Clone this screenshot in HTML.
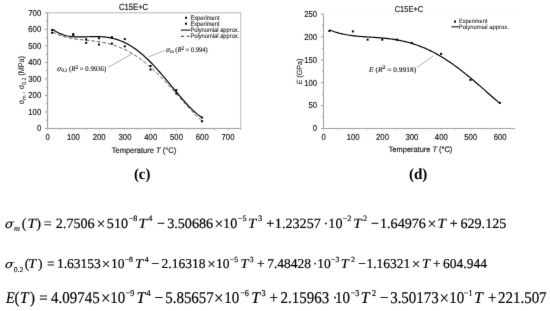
<!DOCTYPE html>
<html><head><meta charset="utf-8"><style>
html,body{margin:0;padding:0;background:#fff;width:550px;height:311px;overflow:hidden}
svg{display:block} text{text-rendering:geometricPrecision}
</style></head><body>
<svg width="550" height="311" viewBox="0 0 550 311">
<defs><filter id="soft" x="0" y="0" width="550" height="311" filterUnits="userSpaceOnUse" color-interpolation-filters="sRGB"><feConvolveMatrix order="3" kernelMatrix="0.0052 0.0619 0.0052 0.0619 0.7316 0.0619 0.0052 0.0619 0.0052" edgeMode="duplicate" preserveAlpha="true"/></filter></defs>
<g filter="url(#soft)">
<rect width="550" height="311" fill="#fff"/>
<rect x="47.5" y="12.79" width="193.2" height="115.71" fill="none" stroke="#c2c2c2" stroke-width="1.2"/>
<line x1="47.5" y1="12.19" x2="47.5" y2="129.1" stroke="#a2a2a2" stroke-width="1.1"/>
<line x1="46.9" y1="128.5" x2="240.7" y2="128.5" stroke="#a2a2a2" stroke-width="1.1"/>
<path d="M44.9 128.5H47.5M45.9 120.23H47.5M44.9 111.97H47.5M45.9 103.7H47.5M44.9 95.44H47.5M45.9 87.17H47.5M44.9 78.91H47.5M45.9 70.64H47.5M44.9 62.38H47.5M45.9 54.11H47.5M44.9 45.85H47.5M45.9 37.58H47.5M44.9 29.32H47.5M45.9 21.05H47.5M44.9 12.79H47.5" stroke="#a2a2a2" stroke-width="1" fill="none"/>
<path d="M47.5 128.5V130.4M60.38 128.5V130.4M73.26 128.5V130.4M86.14 128.5V130.4M99.02 128.5V130.4M111.9 128.5V130.4M124.78 128.5V130.4M137.66 128.5V130.4M150.54 128.5V130.4M163.42 128.5V130.4M176.3 128.5V130.4M189.18 128.5V130.4M202.06 128.5V130.4M214.94 128.5V130.4M227.82 128.5V130.4M240.7 128.5V130.4" stroke="#bdbdbd" stroke-width="0.9" fill="none"/>
<text transform="translate(41.2 131.35) scale(0.89 1)" font-family='"Liberation Sans",Arial,sans-serif' font-size="8.7" text-anchor="end" fill="#1a1a1a" stroke="#1a1a1a" stroke-width="0.18">0</text>
<text transform="translate(41.2 114.82) scale(0.89 1)" font-family='"Liberation Sans",Arial,sans-serif' font-size="8.7" text-anchor="end" fill="#1a1a1a" stroke="#1a1a1a" stroke-width="0.18">100</text>
<text transform="translate(41.2 98.29) scale(0.89 1)" font-family='"Liberation Sans",Arial,sans-serif' font-size="8.7" text-anchor="end" fill="#1a1a1a" stroke="#1a1a1a" stroke-width="0.18">200</text>
<text transform="translate(41.2 81.76) scale(0.89 1)" font-family='"Liberation Sans",Arial,sans-serif' font-size="8.7" text-anchor="end" fill="#1a1a1a" stroke="#1a1a1a" stroke-width="0.18">300</text>
<text transform="translate(41.2 65.23) scale(0.89 1)" font-family='"Liberation Sans",Arial,sans-serif' font-size="8.7" text-anchor="end" fill="#1a1a1a" stroke="#1a1a1a" stroke-width="0.18">400</text>
<text transform="translate(41.2 48.7) scale(0.89 1)" font-family='"Liberation Sans",Arial,sans-serif' font-size="8.7" text-anchor="end" fill="#1a1a1a" stroke="#1a1a1a" stroke-width="0.18">500</text>
<text transform="translate(41.2 32.17) scale(0.89 1)" font-family='"Liberation Sans",Arial,sans-serif' font-size="8.7" text-anchor="end" fill="#1a1a1a" stroke="#1a1a1a" stroke-width="0.18">600</text>
<text transform="translate(41.2 15.64) scale(0.89 1)" font-family='"Liberation Sans",Arial,sans-serif' font-size="8.7" text-anchor="end" fill="#1a1a1a" stroke="#1a1a1a" stroke-width="0.18">700</text>
<text transform="translate(47.7 139.9) scale(0.89 1)" font-family='"Liberation Sans",Arial,sans-serif' font-size="8.7" text-anchor="middle" fill="#1a1a1a" stroke="#1a1a1a" stroke-width="0.18">0</text>
<text transform="translate(73.46 139.9) scale(0.89 1)" font-family='"Liberation Sans",Arial,sans-serif' font-size="8.7" text-anchor="middle" fill="#1a1a1a" stroke="#1a1a1a" stroke-width="0.18">100</text>
<text transform="translate(99.22 139.9) scale(0.89 1)" font-family='"Liberation Sans",Arial,sans-serif' font-size="8.7" text-anchor="middle" fill="#1a1a1a" stroke="#1a1a1a" stroke-width="0.18">200</text>
<text transform="translate(124.98 139.9) scale(0.89 1)" font-family='"Liberation Sans",Arial,sans-serif' font-size="8.7" text-anchor="middle" fill="#1a1a1a" stroke="#1a1a1a" stroke-width="0.18">300</text>
<text transform="translate(150.74 139.9) scale(0.89 1)" font-family='"Liberation Sans",Arial,sans-serif' font-size="8.7" text-anchor="middle" fill="#1a1a1a" stroke="#1a1a1a" stroke-width="0.18">400</text>
<text transform="translate(176.5 139.9) scale(0.89 1)" font-family='"Liberation Sans",Arial,sans-serif' font-size="8.7" text-anchor="middle" fill="#1a1a1a" stroke="#1a1a1a" stroke-width="0.18">500</text>
<text transform="translate(202.26 139.9) scale(0.89 1)" font-family='"Liberation Sans",Arial,sans-serif' font-size="8.7" text-anchor="middle" fill="#1a1a1a" stroke="#1a1a1a" stroke-width="0.18">600</text>
<text transform="translate(228.02 139.9) scale(0.89 1)" font-family='"Liberation Sans",Arial,sans-serif' font-size="8.7" text-anchor="middle" fill="#1a1a1a" stroke="#1a1a1a" stroke-width="0.18">700</text>
<text transform="translate(119 10.3) scale(0.85 1)" font-family='"Liberation Sans",Arial,sans-serif' font-size="9" fill="#1a1a1a" stroke="#1a1a1a" stroke-width="0.18">C15E+C</text>
<text transform="translate(111.7 152.8) scale(0.94 1)" font-family='"Liberation Sans",Arial,sans-serif' font-size="8" fill="#1a1a1a" stroke="#1a1a1a" stroke-width="0.18">Temperature <tspan font-style="italic">T</tspan> (°C)</text>
<text transform="translate(24.3 104.2) rotate(-90) scale(0.87 1)" font-family='"Liberation Sans",Arial,sans-serif' font-size="8.3" fill="#1a1a1a" stroke="#1a1a1a" stroke-width="0.03">σ<tspan font-size="6" dy="1.6">m</tspan><tspan dy="-1.6"> , σ</tspan><tspan font-size="6" dy="1.6">0.2</tspan><tspan dy="-1.6"> (MPa)</tspan></text>
<path d="M52.65 29.19 L53.91 30.12 L55.16 30.96 L56.42 31.74 L57.67 32.44 L58.93 33.08 L60.19 33.66 L61.44 34.18 L62.7 34.64 L63.95 35.05 L65.21 35.41 L66.46 35.72 L67.72 35.99 L68.97 36.22 L70.23 36.41 L71.48 36.57 L72.74 36.7 L74 36.8 L75.25 36.87 L76.51 36.92 L77.76 36.96 L79.02 36.97 L80.27 36.97 L81.53 36.95 L82.78 36.93 L84.04 36.9 L85.3 36.86 L86.55 36.82 L87.81 36.77 L89.06 36.73 L90.32 36.69 L91.57 36.66 L92.83 36.63 L94.08 36.61 L95.34 36.6 L96.6 36.6 L97.85 36.62 L99.11 36.65 L100.36 36.7 L101.62 36.77 L102.87 36.85 L104.13 36.96 L105.38 37.09 L106.64 37.24 L107.9 37.42 L109.15 37.62 L110.41 37.85 L111.66 38.11 L112.92 38.39 L114.17 38.71 L115.43 39.05 L116.68 39.43 L117.94 39.83 L119.2 40.27 L120.45 40.75 L121.71 41.25 L122.96 41.79 L124.22 42.37 L125.47 42.97 L126.73 43.62 L127.98 44.29 L129.24 45 L130.49 45.75 L131.75 46.53 L133.01 47.35 L134.26 48.2 L135.52 49.09 L136.77 50.01 L138.03 50.96 L139.28 51.95 L140.54 52.97 L141.79 54.02 L143.05 55.1 L144.31 56.22 L145.56 57.37 L146.82 58.54 L148.07 59.75 L149.33 60.98 L150.58 62.24 L151.84 63.53 L153.09 64.84 L154.35 66.18 L155.61 67.54 L156.86 68.92 L158.12 70.32 L159.37 71.74 L160.63 73.18 L161.88 74.63 L163.14 76.1 L164.39 77.58 L165.65 79.08 L166.91 80.58 L168.16 82.09 L169.42 83.61 L170.67 85.13 L171.93 86.65 L173.18 88.17 L174.44 89.69 L175.69 91.2 L176.95 92.71 L178.2 94.21 L179.46 95.7 L180.72 97.17 L181.97 98.63 L183.23 100.07 L184.48 101.49 L185.74 102.88 L186.99 104.25 L188.25 105.59 L189.5 106.9 L190.76 108.17 L192.02 109.4 L193.27 110.59 L194.53 111.74 L195.78 112.84 L197.04 113.89 L198.29 114.88 L199.55 115.82 L200.8 116.7 L202.06 117.51" stroke="#000" stroke-width="1.2" fill="none"/>
<path d="M52.65 31.88 L53.91 32.57 L55.16 33.22 L56.42 33.82 L57.67 34.38 L58.93 34.9 L60.19 35.38 L61.44 35.83 L62.7 36.24 L63.95 36.62 L65.21 36.98 L66.46 37.3 L67.72 37.6 L68.97 37.88 L70.23 38.13 L71.48 38.36 L72.74 38.58 L74 38.78 L75.25 38.97 L76.51 39.14 L77.76 39.3 L79.02 39.45 L80.27 39.6 L81.53 39.74 L82.78 39.87 L84.04 40 L85.3 40.13 L86.55 40.25 L87.81 40.38 L89.06 40.51 L90.32 40.64 L91.57 40.78 L92.83 40.93 L94.08 41.08 L95.34 41.24 L96.6 41.41 L97.85 41.59 L99.11 41.78 L100.36 41.98 L101.62 42.2 L102.87 42.43 L104.13 42.67 L105.38 42.94 L106.64 43.22 L107.9 43.51 L109.15 43.83 L110.41 44.16 L111.66 44.52 L112.92 44.89 L114.17 45.29 L115.43 45.71 L116.68 46.15 L117.94 46.61 L119.2 47.09 L120.45 47.6 L121.71 48.13 L122.96 48.69 L124.22 49.27 L125.47 49.88 L126.73 50.51 L127.98 51.17 L129.24 51.85 L130.49 52.56 L131.75 53.29 L133.01 54.05 L134.26 54.84 L135.52 55.65 L136.77 56.48 L138.03 57.34 L139.28 58.23 L140.54 59.14 L141.79 60.08 L143.05 61.04 L144.31 62.03 L145.56 63.04 L146.82 64.07 L148.07 65.13 L149.33 66.21 L150.58 67.31 L151.84 68.44 L153.09 69.59 L154.35 70.75 L155.61 71.94 L156.86 73.15 L158.12 74.38 L159.37 75.62 L160.63 76.89 L161.88 78.17 L163.14 79.46 L164.39 80.77 L165.65 82.1 L166.91 83.43 L168.16 84.78 L169.42 86.15 L170.67 87.52 L171.93 88.9 L173.18 90.29 L174.44 91.68 L175.69 93.09 L176.95 94.49 L178.2 95.9 L179.46 97.31 L180.72 98.72 L181.97 100.13 L183.23 101.54 L184.48 102.95 L185.74 104.35 L186.99 105.74 L188.25 107.13 L189.5 108.5 L190.76 109.86 L192.02 111.21 L193.27 112.55 L194.53 113.87 L195.78 115.17 L197.04 116.45 L198.29 117.71 L199.55 118.94 L200.8 120.15 L202.06 121.33" stroke="#333" stroke-width="0.85" fill="none" stroke-dasharray="3.6 2.1"/>
<rect x="51.14" y="28.98" width="2" height="2" fill="#000"/>
<rect x="51.14" y="31.79" width="2" height="2" fill="#000"/>
<rect x="72.26" y="33.11" width="2" height="2" fill="#000"/>
<rect x="72.26" y="33.94" width="2" height="2" fill="#000"/>
<rect x="85.14" y="38.4" width="2" height="2" fill="#000"/>
<rect x="85.14" y="41.87" width="2" height="2" fill="#000"/>
<rect x="98.02" y="37.25" width="2" height="2" fill="#000"/>
<rect x="98.02" y="43.53" width="2" height="2" fill="#000"/>
<rect x="110.9" y="36.09" width="2" height="2" fill="#000"/>
<rect x="110.9" y="42.54" width="2" height="2" fill="#000"/>
<rect x="123.78" y="38.07" width="2" height="2" fill="#000"/>
<rect x="123.78" y="45.35" width="2" height="2" fill="#000"/>
<rect x="149.54" y="65.02" width="2" height="2" fill="#000"/>
<rect x="149.54" y="68.49" width="2" height="2" fill="#000"/>
<rect x="175.3" y="89.15" width="2" height="2" fill="#000"/>
<rect x="175.3" y="92.46" width="2" height="2" fill="#000"/>
<rect x="201.06" y="116.59" width="2" height="2" fill="#000"/>
<rect x="201.06" y="120.23" width="2" height="2" fill="#000"/>
<text transform="translate(190.4 19.9) scale(0.9 1)" font-family='"Liberation Sans",Arial,sans-serif' font-size="6.4" fill="#1a1a1a" stroke="#1a1a1a" stroke-width="0.08">Experiment</text>
<rect x="185" y="16.8" width="2" height="2" fill="#000"/>
<text transform="translate(190.4 25.8) scale(0.9 1)" font-family='"Liberation Sans",Arial,sans-serif' font-size="6.4" fill="#1a1a1a" stroke="#1a1a1a" stroke-width="0.08">Experiment</text>
<rect x="185" y="22.7" width="2" height="2" fill="#000"/>
<text transform="translate(190.4 32) scale(0.9 1)" font-family='"Liberation Sans",Arial,sans-serif' font-size="6.4" fill="#1a1a1a" stroke="#1a1a1a" stroke-width="0.08">Polynomial approx.</text>
<line x1="181.0" y1="30.1" x2="190.3" y2="30.1" stroke="#111" stroke-width="1.1"/>
<text transform="translate(190.4 38.1) scale(0.9 1)" font-family='"Liberation Sans",Arial,sans-serif' font-size="6.4" fill="#1a1a1a" stroke="#1a1a1a" stroke-width="0.08">Polynomial approx.</text>
<path d="M181.0 36.3h3.2M186.8 36.3h2.8" stroke="#222" stroke-width="0.9"/>
<line x1="164.8" y1="50.6" x2="148.6" y2="56.7" stroke="#777" stroke-width="0.6"/>
<line x1="107.6" y1="67.7" x2="132.9" y2="53.3" stroke="#777" stroke-width="0.6"/>
<text x="165.5" y="52.2" font-family='"Liberation Serif",serif' font-size="7.2" fill="#111" stroke="#111" stroke-width="0.12" textLength="42.2" lengthAdjust="spacingAndGlyphs"><tspan font-family='"DejaVu Math TeX Gyre",serif' font-style="italic" font-size="6.8">σ</tspan><tspan font-size="5" dy="1">m</tspan><tspan dy="-1"> (</tspan><tspan font-style="italic">R</tspan><tspan font-size="5.6" dy="-2.6">2</tspan><tspan dy="2.6"> = 0.994)</tspan></text>
<text x="56.6" y="71.3" font-family='"Liberation Serif",serif' font-size="7.2" fill="#111" stroke="#111" stroke-width="0.12" textLength="49.6" lengthAdjust="spacingAndGlyphs"><tspan font-family='"DejaVu Math TeX Gyre",serif' font-style="italic" font-size="6.8">σ</tspan><tspan font-size="5" dy="1">0.2</tspan><tspan dy="-1"> (</tspan><tspan font-style="italic">R</tspan><tspan font-size="5.6" dy="-2.6">2</tspan><tspan dy="2.6"> = 0.9936)</tspan></text>
<line x1="323.5" y1="14" x2="514.6" y2="14" stroke="#f7f7f7" stroke-width="1"/>
<line x1="323.5" y1="14" x2="323.5" y2="129.1" stroke="#a2a2a2" stroke-width="1.1"/>
<line x1="322.9" y1="128.5" x2="514.6" y2="128.5" stroke="#a2a2a2" stroke-width="1.1"/>
<path d="M320.9 128.5H323.5M321.9 117.05H323.5M320.9 105.6H323.5M321.9 94.15H323.5M320.9 82.7H323.5M321.9 71.25H323.5M320.9 59.8H323.5M321.9 48.35H323.5M320.9 36.9H323.5M321.9 25.45H323.5M320.9 14H323.5" stroke="#a2a2a2" stroke-width="1" fill="none"/>
<path d="M323.5 128.5V130.4M338.2 128.5V130.4M352.9 128.5V130.4M367.6 128.5V130.4M382.3 128.5V130.4M397 128.5V130.4M411.7 128.5V130.4M426.4 128.5V130.4M441.1 128.5V130.4M455.8 128.5V130.4M470.5 128.5V130.4M485.2 128.5V130.4M499.9 128.5V130.4M514.6 128.5V130.4" stroke="#c4c4c4" stroke-width="0.9" fill="none"/>
<text transform="translate(317.1 131.35) scale(0.89 1)" font-family='"Liberation Sans",Arial,sans-serif' font-size="8.7" text-anchor="end" fill="#1a1a1a" stroke="#1a1a1a" stroke-width="0.18">0</text>
<text transform="translate(317.1 108.45) scale(0.89 1)" font-family='"Liberation Sans",Arial,sans-serif' font-size="8.7" text-anchor="end" fill="#1a1a1a" stroke="#1a1a1a" stroke-width="0.18">50</text>
<text transform="translate(317.1 85.55) scale(0.89 1)" font-family='"Liberation Sans",Arial,sans-serif' font-size="8.7" text-anchor="end" fill="#1a1a1a" stroke="#1a1a1a" stroke-width="0.18">100</text>
<text transform="translate(317.1 62.65) scale(0.89 1)" font-family='"Liberation Sans",Arial,sans-serif' font-size="8.7" text-anchor="end" fill="#1a1a1a" stroke="#1a1a1a" stroke-width="0.18">150</text>
<text transform="translate(317.1 39.75) scale(0.89 1)" font-family='"Liberation Sans",Arial,sans-serif' font-size="8.7" text-anchor="end" fill="#1a1a1a" stroke="#1a1a1a" stroke-width="0.18">200</text>
<text transform="translate(317.1 16.85) scale(0.89 1)" font-family='"Liberation Sans",Arial,sans-serif' font-size="8.7" text-anchor="end" fill="#1a1a1a" stroke="#1a1a1a" stroke-width="0.18">250</text>
<text transform="translate(323.7 139.9) scale(0.89 1)" font-family='"Liberation Sans",Arial,sans-serif' font-size="8.7" text-anchor="middle" fill="#1a1a1a" stroke="#1a1a1a" stroke-width="0.18">0</text>
<text transform="translate(353.1 139.9) scale(0.89 1)" font-family='"Liberation Sans",Arial,sans-serif' font-size="8.7" text-anchor="middle" fill="#1a1a1a" stroke="#1a1a1a" stroke-width="0.18">100</text>
<text transform="translate(382.5 139.9) scale(0.89 1)" font-family='"Liberation Sans",Arial,sans-serif' font-size="8.7" text-anchor="middle" fill="#1a1a1a" stroke="#1a1a1a" stroke-width="0.18">200</text>
<text transform="translate(411.9 139.9) scale(0.89 1)" font-family='"Liberation Sans",Arial,sans-serif' font-size="8.7" text-anchor="middle" fill="#1a1a1a" stroke="#1a1a1a" stroke-width="0.18">300</text>
<text transform="translate(441.3 139.9) scale(0.89 1)" font-family='"Liberation Sans",Arial,sans-serif' font-size="8.7" text-anchor="middle" fill="#1a1a1a" stroke="#1a1a1a" stroke-width="0.18">400</text>
<text transform="translate(470.7 139.9) scale(0.89 1)" font-family='"Liberation Sans",Arial,sans-serif' font-size="8.7" text-anchor="middle" fill="#1a1a1a" stroke="#1a1a1a" stroke-width="0.18">500</text>
<text transform="translate(500.1 139.9) scale(0.89 1)" font-family='"Liberation Sans",Arial,sans-serif' font-size="8.7" text-anchor="middle" fill="#1a1a1a" stroke="#1a1a1a" stroke-width="0.18">600</text>
<text transform="translate(394.7 11.7) scale(0.87 1)" font-family='"Liberation Sans",Arial,sans-serif' font-size="8.6" fill="#1a1a1a" stroke="#1a1a1a" stroke-width="0.18">C15E+C</text>
<text transform="translate(388.8 152.1) scale(0.95 1)" font-family='"Liberation Sans",Arial,sans-serif' font-size="7.8" fill="#1a1a1a" stroke="#1a1a1a" stroke-width="0.18">Temperature <tspan font-style="italic">T</tspan> (°C)</text>
<text transform="translate(302 84.6) rotate(-90) scale(0.95 1)" font-family='"Liberation Sans",Arial,sans-serif' font-size="7.6" fill="#1a1a1a" stroke="#1a1a1a" stroke-width="0.06"><tspan font-style="italic">E</tspan> (GPa)</text>
<path d="M329.38 29.88 L330.81 30.47 L332.25 31.01 L333.68 31.53 L335.11 32 L336.54 32.45 L337.98 32.86 L339.41 33.24 L340.84 33.6 L342.28 33.93 L343.71 34.23 L345.14 34.51 L346.58 34.77 L348.01 35.01 L349.44 35.23 L350.87 35.43 L352.31 35.62 L353.74 35.79 L355.17 35.95 L356.61 36.1 L358.04 36.23 L359.47 36.36 L360.9 36.48 L362.34 36.59 L363.77 36.69 L365.2 36.79 L366.64 36.89 L368.07 36.99 L369.5 37.08 L370.94 37.17 L372.37 37.27 L373.8 37.36 L375.23 37.46 L376.67 37.56 L378.1 37.67 L379.53 37.78 L380.97 37.9 L382.4 38.03 L383.83 38.16 L385.26 38.3 L386.7 38.46 L388.13 38.62 L389.56 38.79 L391 38.98 L392.43 39.18 L393.86 39.39 L395.3 39.62 L396.73 39.86 L398.16 40.11 L399.59 40.39 L401.03 40.67 L402.46 40.98 L403.89 41.3 L405.33 41.64 L406.76 41.99 L408.19 42.37 L409.62 42.76 L411.06 43.17 L412.49 43.61 L413.92 44.06 L415.36 44.53 L416.79 45.02 L418.22 45.53 L419.66 46.07 L421.09 46.62 L422.52 47.2 L423.95 47.79 L425.39 48.41 L426.82 49.05 L428.25 49.71 L429.69 50.39 L431.12 51.09 L432.55 51.82 L433.98 52.56 L435.42 53.33 L436.85 54.11 L438.28 54.92 L439.72 55.75 L441.15 56.6 L442.58 57.47 L444.02 58.36 L445.45 59.27 L446.88 60.2 L448.31 61.15 L449.75 62.11 L451.18 63.1 L452.61 64.1 L454.05 65.12 L455.48 66.16 L456.91 67.22 L458.34 68.29 L459.78 69.38 L461.21 70.48 L462.64 71.6 L464.08 72.73 L465.51 73.88 L466.94 75.03 L468.38 76.2 L469.81 77.39 L471.24 78.58 L472.67 79.78 L474.11 80.99 L475.54 82.21 L476.97 83.44 L478.41 84.68 L479.84 85.92 L481.27 87.16 L482.7 88.41 L484.14 89.67 L485.57 90.92 L487 92.18 L488.44 93.44 L489.87 94.69 L491.3 95.95 L492.74 97.2 L494.17 98.44 L495.6 99.68 L497.03 100.92 L498.47 102.15 L499.9 103.36" stroke="#000" stroke-width="1.2" fill="none"/>
<rect x="328.38" y="29.95" width="2" height="2" fill="#000"/>
<rect x="351.9" y="30.4" width="2" height="2" fill="#000"/>
<rect x="366.6" y="38.65" width="2" height="2" fill="#000"/>
<rect x="381.3" y="38.65" width="2" height="2" fill="#000"/>
<rect x="396" y="38.65" width="2" height="2" fill="#000"/>
<rect x="410.7" y="41.85" width="2" height="2" fill="#000"/>
<rect x="440.1" y="52.85" width="2" height="2" fill="#000"/>
<rect x="469.5" y="78.95" width="2" height="2" fill="#000"/>
<rect x="498.9" y="101.85" width="2" height="2" fill="#000"/>
<text transform="translate(458.9 23.4) scale(0.91 1)" font-family='"Liberation Sans",Arial,sans-serif' font-size="6.2" fill="#1a1a1a" stroke="#1a1a1a" stroke-width="0.06">Experiment</text>
<rect x="454" y="20.6" width="2" height="2" fill="#000"/>
<text transform="translate(458.8 28.6) scale(0.95 1)" font-family='"Liberation Sans",Arial,sans-serif' font-size="6.2" fill="#1a1a1a" stroke="#1a1a1a" stroke-width="0.06">Polynomial approx.</text>
<line x1="451.5" y1="26.8" x2="458.8" y2="26.8" stroke="#111" stroke-width="1.1"/>
<line x1="417" y1="67.4" x2="433.5" y2="55.7" stroke="#777" stroke-width="0.6"/>
<text x="369.0" y="71.8" font-family='"Liberation Serif",serif' font-size="7.2" fill="#111" stroke="#111" stroke-width="0.12" textLength="47.2" lengthAdjust="spacingAndGlyphs"><tspan font-style="italic">E</tspan> (<tspan font-style="italic">R</tspan><tspan font-size="5.6" dy="-2.6">2</tspan><tspan dy="2.6"> = 0.9918)</tspan></text>
<text transform="translate(133.93 178.7) scale(0.95 1)" font-family='"Liberation Serif",serif' font-size="15.6" font-weight="bold" fill="#000" stroke="#000" stroke-width="0">(c)</text>
<text transform="translate(408.92 178.7) scale(0.97 1)" font-family='"Liberation Serif",serif' font-size="15.6" font-weight="bold" fill="#000" stroke="#000" stroke-width="0">(d)</text>
<text transform="translate(3.72 227.6) scale(1.05 1)" font-family='"DejaVu Math TeX Gyre","Liberation Serif",serif' font-style="italic" font-size="12.3" fill="#000" stroke="#000" stroke-width="0.15">σ</text>
<text transform="translate(14.01 231.1) scale(1.05 1)" font-family='"Liberation Serif",serif' font-size="7.8" font-style="italic" fill="#000" stroke="#000" stroke-width="0.1">m</text>
<text transform="translate(21.66 227.6)" font-family='"Liberation Serif",serif' font-size="14.15" fill="#000" stroke="#000" stroke-width="0.18">(</text>
<text transform="translate(27.4 227.6) scale(1.06 1)" font-family='"Liberation Serif",serif' font-size="14.15" font-style="italic" fill="#000" stroke="#000" stroke-width="0.18">T</text>
<text transform="translate(36.34 227.6)" font-family='"Liberation Serif",serif' font-size="14.15" fill="#000" stroke="#000" stroke-width="0.18">)</text>
<text transform="translate(43.8 227.6)" font-family='"Liberation Serif",serif' font-size="14.15" fill="#000" stroke="#000" stroke-width="0.18">=</text>
<text transform="translate(55.79 227.6)" font-family='"Liberation Serif",serif' font-size="14.15" fill="#000" stroke="#000" stroke-width="0.18">2.7506</text>
<text transform="translate(96.52 228.8)" font-family='"Liberation Serif",serif' font-size="15.85" fill="#000" stroke="#000" stroke-width="0.18">×</text>
<text transform="translate(106.85 227.6)" font-family='"Liberation Serif",serif' font-size="14.15" fill="#000" stroke="#000" stroke-width="0.18">510</text>
<text transform="translate(128.69 221.3)" font-family='"Liberation Serif",serif' font-size="8.2" fill="#000" stroke="#000" stroke-width="0.18">−8</text>
<text transform="translate(138.55 227.6) scale(1.06 1)" font-family='"Liberation Serif",serif' font-size="14.15" font-style="italic" fill="#000" stroke="#000" stroke-width="0.18">T</text>
<text transform="translate(148.28 221.3)" font-family='"Liberation Serif",serif' font-size="8.2" fill="#000" stroke="#000" stroke-width="0.18">4</text>
<text transform="translate(156.9 227.6)" font-family='"Liberation Serif",serif' font-size="14.15" fill="#000" stroke="#000" stroke-width="0.18">−</text>
<text transform="translate(167.15 227.6)" font-family='"Liberation Serif",serif' font-size="14.15" fill="#000" stroke="#000" stroke-width="0.18">3.50686</text>
<text transform="translate(214.62 228.8)" font-family='"Liberation Serif",serif' font-size="15.85" fill="#000" stroke="#000" stroke-width="0.18">×</text>
<text transform="translate(223.11 227.6)" font-family='"Liberation Serif",serif' font-size="14.15" fill="#000" stroke="#000" stroke-width="0.18">10</text>
<text transform="translate(237.84 221.3)" font-family='"Liberation Serif",serif' font-size="8.2" fill="#000" stroke="#000" stroke-width="0.18">−5</text>
<text transform="translate(248.05 227.6) scale(1.06 1)" font-family='"Liberation Serif",serif' font-size="14.15" font-style="italic" fill="#000" stroke="#000" stroke-width="0.18">T</text>
<text transform="translate(257.88 221.3)" font-family='"Liberation Serif",serif' font-size="8.2" fill="#000" stroke="#000" stroke-width="0.18">3</text>
<text transform="translate(266.2 227.6)" font-family='"Liberation Serif",serif' font-size="14.15" fill="#000" stroke="#000" stroke-width="0.18">+</text>
<text transform="translate(274.87 227.6)" font-family='"Liberation Serif",serif' font-size="14.15" fill="#000" stroke="#000" stroke-width="0.18">1.23257</text>
<text transform="translate(323.57 227.6)" font-family='"Liberation Serif",serif' font-size="14.15" fill="#000" stroke="#000" stroke-width="0.18">·</text>
<text transform="translate(328.31 227.6)" font-family='"Liberation Serif",serif' font-size="14.15" fill="#000" stroke="#000" stroke-width="0.18">10</text>
<text transform="translate(342.75 221.3)" font-family='"Liberation Serif",serif' font-size="8.2" fill="#000" stroke="#000" stroke-width="0.18">−2</text>
<text transform="translate(353.15 227.6) scale(1.06 1)" font-family='"Liberation Serif",serif' font-size="14.15" font-style="italic" fill="#000" stroke="#000" stroke-width="0.18">T</text>
<text transform="translate(362.89 221.3)" font-family='"Liberation Serif",serif' font-size="8.2" fill="#000" stroke="#000" stroke-width="0.18">2</text>
<text transform="translate(370.9 227.6)" font-family='"Liberation Serif",serif' font-size="14.15" fill="#000" stroke="#000" stroke-width="0.18">−</text>
<text transform="translate(379.97 227.6)" font-family='"Liberation Serif",serif' font-size="14.15" fill="#000" stroke="#000" stroke-width="0.18">1.64976</text>
<text transform="translate(427.42 228.8)" font-family='"Liberation Serif",serif' font-size="15.85" fill="#000" stroke="#000" stroke-width="0.18">×</text>
<text transform="translate(437.45 227.6) scale(1.06 1)" font-family='"Liberation Serif",serif' font-size="14.15" font-style="italic" fill="#000" stroke="#000" stroke-width="0.18">T</text>
<text transform="translate(449.7 227.6)" font-family='"Liberation Serif",serif' font-size="14.15" fill="#000" stroke="#000" stroke-width="0.18">+</text>
<text transform="translate(460.41 227.6)" font-family='"Liberation Serif",serif' font-size="14.15" fill="#000" stroke="#000" stroke-width="0.18">629.125</text>
<text transform="translate(3.73 268) scale(1.15 1)" font-family='"DejaVu Math TeX Gyre","Liberation Serif",serif' font-style="italic" font-size="11.2" fill="#000" stroke="#000" stroke-width="0.15">σ</text>
<text transform="translate(13.69 271.7) scale(1.04 1)" font-family='"Liberation Serif",serif' font-size="7.4" fill="#000" stroke="#000" stroke-width="0.1">0.2</text>
<text transform="translate(24.77 268)" font-family='"Liberation Serif",serif' font-size="13.5" fill="#000" stroke="#000" stroke-width="0.18">(</text>
<text transform="translate(28.23 268) scale(1.06 1)" font-family='"Liberation Serif",serif' font-size="13.5" font-style="italic" fill="#000" stroke="#000" stroke-width="0.18">T</text>
<text transform="translate(37.94 268)" font-family='"Liberation Serif",serif' font-size="13.5" fill="#000" stroke="#000" stroke-width="0.18">)</text>
<text transform="translate(46.89 268)" font-family='"Liberation Serif",serif' font-size="13.5" fill="#000" stroke="#000" stroke-width="0.18">=</text>
<text transform="translate(56.91 268)" font-family='"Liberation Serif",serif' font-size="13.5" fill="#000" stroke="#000" stroke-width="0.18">1.63153</text>
<text transform="translate(101.78 269.2)" font-family='"Liberation Serif",serif' font-size="15.12" fill="#000" stroke="#000" stroke-width="0.18">×</text>
<text transform="translate(110.95 268)" font-family='"Liberation Serif",serif' font-size="13.5" fill="#000" stroke="#000" stroke-width="0.18">10</text>
<text transform="translate(124.71 262.1)" font-family='"Liberation Serif",serif' font-size="7.8" fill="#000" stroke="#000" stroke-width="0.18">−8</text>
<text transform="translate(134.93 268) scale(1.06 1)" font-family='"Liberation Serif",serif' font-size="13.5" font-style="italic" fill="#000" stroke="#000" stroke-width="0.18">T</text>
<text transform="translate(144.68 262.1)" font-family='"Liberation Serif",serif' font-size="7.8" fill="#000" stroke="#000" stroke-width="0.18">4</text>
<text transform="translate(151.44 268)" font-family='"Liberation Serif",serif' font-size="13.5" fill="#000" stroke="#000" stroke-width="0.18">−</text>
<text transform="translate(161.58 268)" font-family='"Liberation Serif",serif' font-size="13.5" fill="#000" stroke="#000" stroke-width="0.18">2.16318</text>
<text transform="translate(207.18 269.2)" font-family='"Liberation Serif",serif' font-size="15.12" fill="#000" stroke="#000" stroke-width="0.18">×</text>
<text transform="translate(216.1 268)" font-family='"Liberation Serif",serif' font-size="13.5" fill="#000" stroke="#000" stroke-width="0.18">10</text>
<text transform="translate(229.86 262.1)" font-family='"Liberation Serif",serif' font-size="7.8" fill="#000" stroke="#000" stroke-width="0.18">−5</text>
<text transform="translate(240.38 268) scale(1.06 1)" font-family='"Liberation Serif",serif' font-size="13.5" font-style="italic" fill="#000" stroke="#000" stroke-width="0.18">T</text>
<text transform="translate(249.83 262.1)" font-family='"Liberation Serif",serif' font-size="7.8" fill="#000" stroke="#000" stroke-width="0.18">3</text>
<text transform="translate(256.94 268)" font-family='"Liberation Serif",serif' font-size="13.5" fill="#000" stroke="#000" stroke-width="0.18">+</text>
<text transform="translate(267.24 268)" font-family='"Liberation Serif",serif' font-size="13.5" fill="#000" stroke="#000" stroke-width="0.18">7.48428</text>
<text transform="translate(312.77 268)" font-family='"Liberation Serif",serif' font-size="13.5" fill="#000" stroke="#000" stroke-width="0.18">·</text>
<text transform="translate(317.25 268)" font-family='"Liberation Serif",serif' font-size="13.5" fill="#000" stroke="#000" stroke-width="0.18">10</text>
<text transform="translate(331.06 262.1)" font-family='"Liberation Serif",serif' font-size="7.8" fill="#000" stroke="#000" stroke-width="0.18">−3</text>
<text transform="translate(340.83 268) scale(1.06 1)" font-family='"Liberation Serif",serif' font-size="13.5" font-style="italic" fill="#000" stroke="#000" stroke-width="0.18">T</text>
<text transform="translate(350.94 262.1)" font-family='"Liberation Serif",serif' font-size="7.8" fill="#000" stroke="#000" stroke-width="0.18">2</text>
<text transform="translate(358.29 268)" font-family='"Liberation Serif",serif' font-size="13.5" fill="#000" stroke="#000" stroke-width="0.18">−</text>
<text transform="translate(366.39 268)" font-family='"Liberation Serif",serif' font-size="13.5" fill="#000" stroke="#000" stroke-width="0.18">1.16321</text>
<text transform="translate(411.63 269.2)" font-family='"Liberation Serif",serif' font-size="15.12" fill="#000" stroke="#000" stroke-width="0.18">×</text>
<text transform="translate(421.93 268) scale(1.06 1)" font-family='"Liberation Serif",serif' font-size="13.5" font-style="italic" fill="#000" stroke="#000" stroke-width="0.18">T</text>
<text transform="translate(432.94 268)" font-family='"Liberation Serif",serif' font-size="13.5" fill="#000" stroke="#000" stroke-width="0.18">+</text>
<text transform="translate(443.09 268)" font-family='"Liberation Serif",serif' font-size="13.5" fill="#000" stroke="#000" stroke-width="0.18">604.944</text>
<g transform="translate(0 302.6) scale(1 1.1) translate(0 -302.6)">
<text transform="translate(6.04 302.6) scale(0.96 1)" font-family='"Liberation Serif",serif' font-size="14.95" font-style="italic" fill="#000" stroke="#000" stroke-width="0.18">E</text>
<text transform="translate(14.57 302.6)" font-family='"Liberation Serif",serif' font-size="14.95" fill="#000" stroke="#000" stroke-width="0.18">(</text>
<text transform="translate(19.71 302.6) scale(1.06 1)" font-family='"Liberation Serif",serif' font-size="14.95" font-style="italic" fill="#000" stroke="#000" stroke-width="0.18">T</text>
<text transform="translate(30.06 302.6)" font-family='"Liberation Serif",serif' font-size="14.95" fill="#000" stroke="#000" stroke-width="0.18">)</text>
<text transform="translate(39.13 302.6)" font-family='"Liberation Serif",serif' font-size="14.95" fill="#000" stroke="#000" stroke-width="0.18">=</text>
<text transform="translate(51.11 302.6)" font-family='"Liberation Serif",serif' font-size="14.95" fill="#000" stroke="#000" stroke-width="0.18">4.09745</text>
<text transform="translate(100.92 303.8)" font-family='"Liberation Serif",serif' font-size="16.74" fill="#000" stroke="#000" stroke-width="0.18">×</text>
<text transform="translate(110.34 302.6)" font-family='"Liberation Serif",serif' font-size="14.95" fill="#000" stroke="#000" stroke-width="0.18">10</text>
<text transform="translate(125.64 296.3)" font-family='"Liberation Serif",serif' font-size="8.2" fill="#000" stroke="#000" stroke-width="0.18">−9</text>
<text transform="translate(136.51 302.6) scale(1.06 1)" font-family='"Liberation Serif",serif' font-size="14.95" font-style="italic" fill="#000" stroke="#000" stroke-width="0.18">T</text>
<text transform="translate(146.58 296.3)" font-family='"Liberation Serif",serif' font-size="8.2" fill="#000" stroke="#000" stroke-width="0.18">4</text>
<text transform="translate(154.83 302.6)" font-family='"Liberation Serif",serif' font-size="14.95" fill="#000" stroke="#000" stroke-width="0.18">−</text>
<text transform="translate(165.23 302.6)" font-family='"Liberation Serif",serif' font-size="14.95" fill="#000" stroke="#000" stroke-width="0.18">5.85657</text>
<text transform="translate(214.07 303.8)" font-family='"Liberation Serif",serif' font-size="16.74" fill="#000" stroke="#000" stroke-width="0.18">×</text>
<text transform="translate(224.34 302.6)" font-family='"Liberation Serif",serif' font-size="14.95" fill="#000" stroke="#000" stroke-width="0.18">10</text>
<text transform="translate(240.25 296.3)" font-family='"Liberation Serif",serif' font-size="8.2" fill="#000" stroke="#000" stroke-width="0.18">−6</text>
<text transform="translate(251.16 302.6) scale(1.06 1)" font-family='"Liberation Serif",serif' font-size="14.95" font-style="italic" fill="#000" stroke="#000" stroke-width="0.18">T</text>
<text transform="translate(261.38 296.3)" font-family='"Liberation Serif",serif' font-size="8.2" fill="#000" stroke="#000" stroke-width="0.18">3</text>
<text transform="translate(269.48 302.6)" font-family='"Liberation Serif",serif' font-size="14.95" fill="#000" stroke="#000" stroke-width="0.18">+</text>
<text transform="translate(280.62 302.6)" font-family='"Liberation Serif",serif' font-size="14.95" fill="#000" stroke="#000" stroke-width="0.18">2.15963</text>
<text transform="translate(332.43 302.6)" font-family='"Liberation Serif",serif' font-size="14.95" fill="#000" stroke="#000" stroke-width="0.18">·</text>
<text transform="translate(334.99 302.6)" font-family='"Liberation Serif",serif' font-size="14.95" fill="#000" stroke="#000" stroke-width="0.18">10</text>
<text transform="translate(350.64 296.3)" font-family='"Liberation Serif",serif' font-size="8.2" fill="#000" stroke="#000" stroke-width="0.18">−3</text>
<text transform="translate(360.71 302.6) scale(1.06 1)" font-family='"Liberation Serif",serif' font-size="14.95" font-style="italic" fill="#000" stroke="#000" stroke-width="0.18">T</text>
<text transform="translate(371.99 296.3)" font-family='"Liberation Serif",serif' font-size="8.2" fill="#000" stroke="#000" stroke-width="0.18">2</text>
<text transform="translate(379.88 302.6)" font-family='"Liberation Serif",serif' font-size="14.95" fill="#000" stroke="#000" stroke-width="0.18">−</text>
<text transform="translate(390.17 302.6)" font-family='"Liberation Serif",serif' font-size="14.95" fill="#000" stroke="#000" stroke-width="0.18">3.50173</text>
<text transform="translate(439.42 303.8)" font-family='"Liberation Serif",serif' font-size="16.74" fill="#000" stroke="#000" stroke-width="0.18">×</text>
<text transform="translate(449.19 302.6)" font-family='"Liberation Serif",serif' font-size="14.95" fill="#000" stroke="#000" stroke-width="0.18">10</text>
<text transform="translate(463.82 296.3)" font-family='"Liberation Serif",serif' font-size="8.2" fill="#000" stroke="#000" stroke-width="0.18">−1</text>
<text transform="translate(473.96 302.6) scale(1.06 1)" font-family='"Liberation Serif",serif' font-size="14.95" font-style="italic" fill="#000" stroke="#000" stroke-width="0.18">T</text>
<text transform="translate(487.98 302.6)" font-family='"Liberation Serif",serif' font-size="14.95" fill="#000" stroke="#000" stroke-width="0.18">+</text>
<text transform="translate(498.04 302.6)" font-family='"Liberation Serif",serif' font-size="14.95" fill="#000" stroke="#000" stroke-width="0.18">221.507</text>
</g>
</g>
</svg>
</body></html>
